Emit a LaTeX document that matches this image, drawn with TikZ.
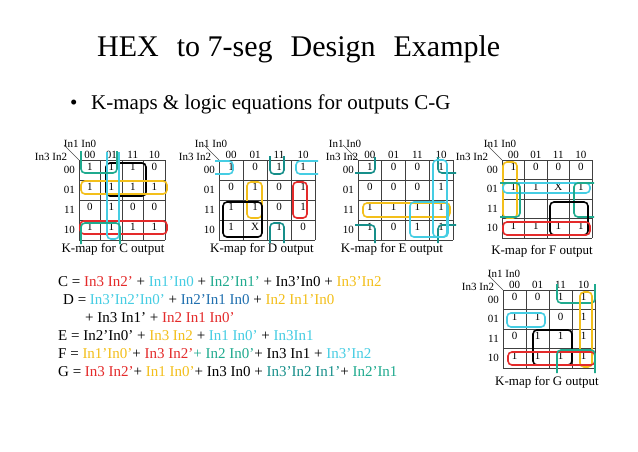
\documentclass[tikz,border=0pt]{standalone}
\usepackage{fontspec}
\setmainfont{Liberation Serif}
\definecolor{kred}{HTML}{E42A2A}
\definecolor{kcyan}{HTML}{45CDE3}
\definecolor{kteal}{HTML}{1FAA8E}
\definecolor{kdteal}{HTML}{168F8A}
\definecolor{kblue}{HTML}{1F6FAF}
\definecolor{kyel}{HTML}{F3BF1A}
\newcommand\kR[1]{\textcolor{kred}{#1}}
\newcommand\kC[1]{\textcolor{kcyan}{#1}}
\newcommand\kT[1]{\textcolor{kteal}{#1}}
\newcommand\kD[1]{\textcolor{kdteal}{#1}}
\newcommand\kB[1]{\textcolor{kblue}{#1}}
\newcommand\kY[1]{\textcolor{kyel}{#1}}
\tikzset{
 gridline/.style={draw=black!75, line width=0.9pt},
 cellval/.style={font=\fontsize{11}{13}\selectfont, inner sep=0pt},
 hdr/.style={font=\fontsize{11}{13}\selectfont, inner sep=0pt},
 kcaption/.style={font=\fontsize{13}{15}\selectfont, inner sep=0pt},
 kloop/.style={line width=1.6pt, rounded corners=4pt},
 eq/.style={font=\fontsize{15}{18}\selectfont, anchor=base west, inner sep=0pt},
}
% id, x0, y0, cw, ch, values, In1In0 dx, In3In2 dx
\newcommand\kmapgrid[8]{%
 \begin{scope}[shift={(#2,#3)}]
  \foreach \i in {0,...,4} {
    \draw[gridline] (\i*#4,0) -- (\i*#4,4*#5);
    \draw[gridline] (0,\i*#5) -- (4*#4,\i*#5);
  }
  \foreach \v [count=\k from 0] in {#6} {
    \pgfmathtruncatemacro\rr{int(\k/4)}
    \pgfmathtruncatemacro\cc{mod(\k,4)}
    \node[cellval] (#1-\k) at ({(\cc+0.5)*#4},{(\rr+0.36)*#5}) {\v};
  }
  \foreach \h [count=\c from 0] in {00,01,11,10} {
    \node[hdr] (#1-h\c) at ({(\c+0.5)*#4},-5.5) {\h};
    \node[hdr, anchor=east] (#1-r\c) at (-4,{(\c+0.5)*#5}) {\h};
  }
  \node[hdr] (#1-in10) at (#7,-16) {In1 In0};
  \node[hdr] (#1-in32) at (#8,-3) {In3 In2};
  \draw[black!70, line width=0.5pt] (-15,-15) -- (0,0);
 \end{scope}}
\begin{document}
\begin{tikzpicture}[x=1pt,y=-1pt]
\fill[white] (0,0) rectangle (638,451);
\useasboundingbox (0,0) rectangle (638,451);

\node[font=\fontsize{30}{34}\selectfont, anchor=base west, inner sep=0pt] (title) at (97,56) {HEX\hspace{0.6em}to 7-seg\hspace{0.6em}Design\hspace{0.6em}Example};
\node[font=\fontsize{21}{24}\selectfont, anchor=base west, inner sep=0pt] (bul) at (70,109) {•};
\node[font=\fontsize{21}{24}\selectfont, anchor=base west, inner sep=0pt] (sub) at (91,109) {K-maps \& logic equations for outputs C-G};

% ---------- C ----------
\kmapgrid{C}{79}{160}{21.5}{20}{1,1,1,0,1,1,1,1,0,1,0,0,1,1,1,1}{1}{-28}
\draw[kloop, black] (106,163) rectangle (146,196);
\draw[kloop, kyel] (81,181) rectangle (167,194);
\draw[kloop, kred] (80,221) rectangle (167,234);
\draw[kloop, kcyan] (107,152) -- (107,239) -- (119,239) -- (119,152);
\draw[kloop, kteal] (81,151) -- (81,173) -- (117,173) -- (117,151);
\draw[kloop, kteal] (81,244) -- (81,223) -- (120,223) -- (120,244);
\node[kcaption] (capC) at (113,249) {K-map for C output};

% ---------- D ----------
\kmapgrid{D}{219}{160}{24}{20}{1,0,1,1,0,1,0,1,1,1,0,1,1,X,1,0}{-8}{-24}
\draw[kloop, kcyan] (215,161) -- (233,161) -- (233,174) -- (215,174);
\draw[kloop, kcyan] (318,161) -- (296,161) -- (296,174) -- (318,174);
\draw[kloop, kdteal] (270,156) -- (270,174) -- (284,174) -- (284,156);
\draw[kloop, kdteal] (270,243) -- (270,223) -- (284,223) -- (284,243);
\draw[kloop, kyel] (247,182) rectangle (262,218);
\draw[kloop, kred] (293,182) rectangle (307,218);
\draw[kloop, black] (223,202) rectangle (262,237);
\node[kcaption] (capD) at (262,249) {K-map for D output};

% ---------- E ----------
\kmapgrid{E}{358}{160}{23.75}{20}{1,0,0,1,0,0,0,1,1,1,1,1,1,0,1,1}{-13}{-16}
\draw[kloop, kdteal] (355,173) -- (375,173) -- (375,157);
\draw[kloop, kdteal] (438,157) -- (438,173) -- (456,173);
\draw[kloop, kdteal] (355,225) -- (375,225) -- (375,243);
\draw[kloop, kdteal] (438,243) -- (438,225) -- (456,225);
\draw[kloop, kyel] (363,203) rectangle (450,217);
\draw[kloop, kcyan] (433,160) rectangle (447,237);
\draw[kloop, kcyan] (410,202) rectangle (448,237);
\node[kcaption] (capE) at (392,249) {K-map for E output};

% ---------- F ----------
\kmapgrid{F}{502}{160}{22.5}{19.5}{1,0,0,0,1,1,X,1,{},{},{},{},1,1,1,1}{-2}{-30}
\draw[kloop, kyel] (503,162) rectangle (517,218);
\draw[kloop, kcyan] (503,183) rectangle (590,193);
\draw[kloop, kteal] (500,183) -- (520,183) -- (520,217) -- (500,217);
\draw[kloop, kteal] (594,183) -- (574,183) -- (574,217) -- (594,217);
\draw[kloop, black] (550,202) rectangle (588,235);
\draw[kloop, kred] (503,222) rectangle (590,235);
\node[kcaption] (capF) at (542,251) {K-map for F output};

% ---------- G ----------
\kmapgrid{G}{503}{290}{23}{19.5}{0,0,1,1,1,1,0,1,0,1,1,1,1,1,1,1}{1}{-25}
\draw[kloop, kteal] (557,284) -- (557,303) -- (595,303) -- (595,284);
\draw[kloop, kyel] (580,292) rectangle (592,367);
\draw[kloop, kcyan] (507,313) rectangle (545,327);
\draw[kloop, black] (533,330) rectangle (572,365);
\draw[kloop, kred] (508,352) rectangle (595,365);
\draw[kloop, kteal] (557,373) -- (557,350) -- (595,350) -- (595,373);
\node[kcaption] (capG) at (547,382) {K-map for G output};

% ---------- equations ----------
\node[eq] (eqC) at (58,286) {C = \kR{In3 In2’} + \kC{In1’In0} + \kT{In2’In1’} + In3’In0 + \kY{In3’In2}};
\node[eq] (eqD) at (63,304) {D = \kC{In3’In2’In0’} + \kB{In2’In1 In0} + \kY{In2 In1’In0}};
\node[eq] (eqD2) at (85,322) {+ In3 In1’ + \kR{In2 In1 In0’}};
\node[eq] (eqE) at (58,340) {E = In2’In0’ + \kY{In3 In2} + \kC{In1 In0’} + \kC{In3In1}};
\node[eq] (eqF) at (58,358) {F = \kY{In1’In0’}+ \kR{In3 In2’}\kT{ + In2 In0’}+ In3 In1 + \kC{In3’In2}};
\node[eq] (eqG) at (58,376) {G = \kR{In3 In2’}+ \kY{In1 In0’}+ In3 In0 + \kD{In3’In2 In1’}+ \kT{In2’In1}};
\end{tikzpicture}
\end{document}
